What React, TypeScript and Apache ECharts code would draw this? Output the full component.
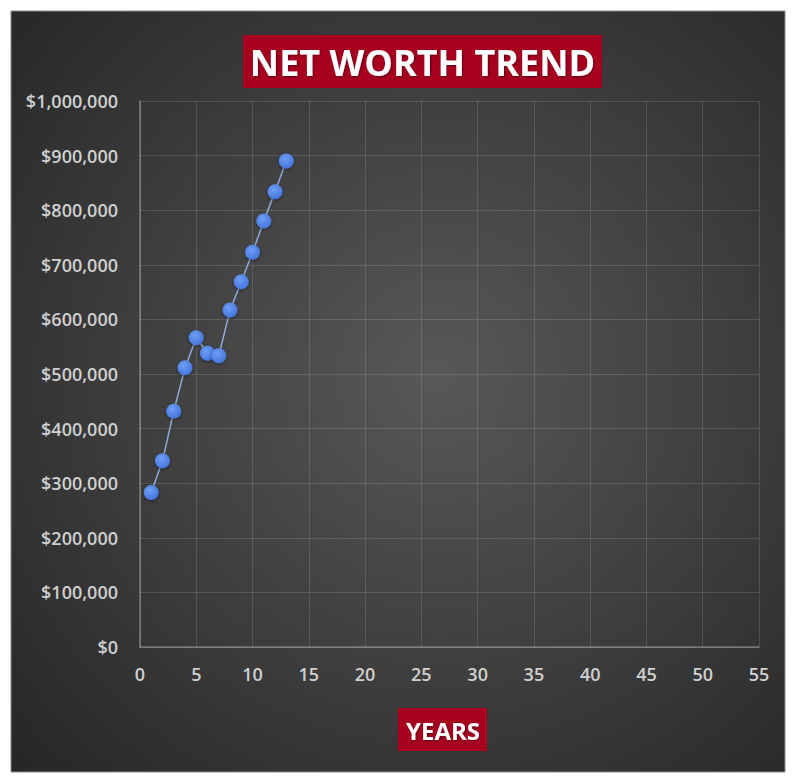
import React, { useEffect, useRef } from "react";
import * as echarts from "echarts";

const years = [1, 2, 3, 4, 5, 6, 7, 8, 9, 10, 11, 12, 13];
const netWorth = [283000, 341000, 432000, 511500, 566500, 538000, 533500, 617000, 669000, 723000, 780000, 834000, 890000];
const titleText = "NET WORTH TREND";
const xAxisTitle = "YEARS";
const xRange = [0, 55];
const yRange = [0, 1000000];

export default function App() {
  const ref = useRef<HTMLDivElement>(null);
  useEffect(() => {
    if (!ref.current) return;
    const chart = echarts.init(ref.current, null, { renderer: "svg" });
    const labelStyle = {
      color: "#d0d0d0",
      fontFamily: "Open Sans",
      fontSize: 18,
      fontWeight: 600 as any,
    };
    const gridColor = "rgba(255,255,255,0.13)";
    const axisColor = "rgba(255,255,255,0.32)";
    chart.setOption({
      animation: false,
      backgroundColor: "#ffffff",
      graphic: [
        {
          type: "rect",
          z: -10,
          shape: { x: 11, y: 11, width: 774, height: 761 },
          style: {
            fill: new echarts.graphic.RadialGradient(0.55, 0.48, 0.75, [
              { offset: 0, color: "#585858" },
              { offset: 1, color: "#262626" },
            ]),
            stroke: "#8c8c8c",
            lineWidth: 1,
          },
        },
        {
          type: "rect",
          shape: { x: 243, y: 35, width: 359, height: 53 },
          style: { fill: "#a8001f" },
        },
        {
          type: "text",
          x: 422.5,
          y: 62,
          style: {
            text: titleText,
            fill: "#ffffff",
            font: "bold 36px 'Open Sans'",
            align: "center",
            verticalAlign: "middle",
            textShadowColor: "rgba(0,0,0,0.45)",
            textShadowBlur: 2,
            textShadowOffsetX: 1,
            textShadowOffsetY: 1,
          },
        },
        {
          type: "rect",
          shape: { x: 398, y: 708, width: 89, height: 43 },
          style: { fill: "#a8001f" },
        },
        {
          type: "text",
          x: 443,
          y: 730,
          style: {
            text: xAxisTitle,
            fill: "#ffffff",
            font: "bold 24px 'Open Sans'",
            align: "center",
            verticalAlign: "middle",
            textShadowColor: "rgba(0,0,0,0.45)",
            textShadowBlur: 2,
            textShadowOffsetX: 1,
            textShadowOffsetY: 1,
          },
        },
      ],
      grid: { left: 140, top: 101, right: 35, bottom: 137, containLabel: false },
      xAxis: {
        type: "value",
        min: xRange[0],
        max: xRange[1],
        interval: 5,
        axisLine: { show: true, lineStyle: { color: axisColor, width: 1.5 } },
        axisTick: { show: false },
        splitLine: { show: true, lineStyle: { color: gridColor, width: 1 } },
        axisLabel: { ...labelStyle, margin: 18 },
      },
      yAxis: {
        type: "value",
        min: yRange[0],
        max: yRange[1],
        interval: 100000,
        axisLine: { show: true, lineStyle: { color: axisColor, width: 1.5 } },
        axisTick: { show: false },
        splitLine: { show: true, lineStyle: { color: gridColor, width: 1 } },
        axisLabel: {
          ...labelStyle,
          margin: 22,
          formatter: (v: number) => "$" + v.toLocaleString("en-US"),
        },
      },
      series: [
        {
          type: "line",
          data: years.map((y, i) => [y, netWorth[i]]),
          symbol: "circle",
          symbolSize: 15,
          lineStyle: { color: "#8ea9dc", width: 1.5 },
          itemStyle: {
            color: new echarts.graphic.RadialGradient(0.4, 0.35, 0.7, [
              { offset: 0, color: "#6e9ef6" },
              { offset: 1, color: "#4273da" },
            ]),
            shadowColor: "rgba(0,0,0,0.5)",
            shadowBlur: 3,
            shadowOffsetY: 1,
          },
        },
      ],
    });
    return () => chart.dispose();
  }, []);
  return (
    <div
      ref={ref}
      style={{ position: "absolute", left: 0, top: 0, width: 794, height: 784 }}
    />
  );
}
